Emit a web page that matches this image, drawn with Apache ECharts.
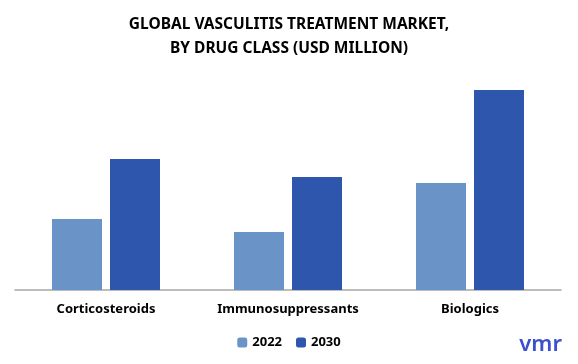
<!DOCTYPE html>
<html><head><meta charset="utf-8">
<script src="https://cdn.jsdelivr.net/npm/echarts@6/dist/echarts.min.js"></script>
<style>html,body{margin:0;padding:0;background:#fff}#c{width:578px;height:364px}</style>
</head><body><div id="c"></div>
<script>
const categories = ['Corticosteroids', 'Immunosuppressants', 'Biologics'];
const series2022 = [71, 58, 107];
const series2030 = [131, 113, 200];
const seriesNames = ['2022', '2030'];

const chart = echarts.init(document.getElementById('c'), null, {renderer: 'canvas'});
chart.setOption({
  animation: false,
  title: {
    text: 'GLOBAL VASCULITIS TREATMENT MARKET,\nBY DRUG CLASS (USD MILLION)',
    left: 'center', top: 8,
    textStyle: {fontFamily: 'Noto Sans', fontWeight: 'bold', fontSize: 15.5, lineHeight: 24, color: '#000'}
  },
  legend: {
    data: seriesNames, bottom: 10, left: 'center',
    itemWidth: 10, itemHeight: 10, itemGap: 14,
    textStyle: {fontFamily: 'Noto Sans', fontSize: 13, color: '#000', fontWeight: 'bold'}
  },
  grid: {left: 15, right: 17, top: 70, bottom: 74, containLabel: false},
  xAxis: {
    type: 'category', data: categories,
    axisLine: {lineStyle: {color: '#a6a6a6', width: 1.5}},
    axisTick: {show: false},
    axisLabel: {interval: 0, fontFamily: 'Noto Sans', fontSize: 13, color: '#000', margin: 13, fontWeight: 'bold'}
  },
  yAxis: {type: 'value', min: 0, max: 220, show: false, splitLine: {show: false}},
  series: [
    {name: seriesNames[0], type: 'bar', data: series2022, barWidth: 50, barGap: '16%', itemStyle: {color: '#6a93c8'}},
    {name: seriesNames[1], type: 'bar', data: series2030, barWidth: 50, itemStyle: {color: '#2e56ad'}}
  ],
  graphic: [{
    type: 'text', right: 16, bottom: 8,
    style: {text: 'vmr', font: '600 22px "Noto Sans"', fill: '#3b4fcf'}
  }]
});
</script></body></html>
